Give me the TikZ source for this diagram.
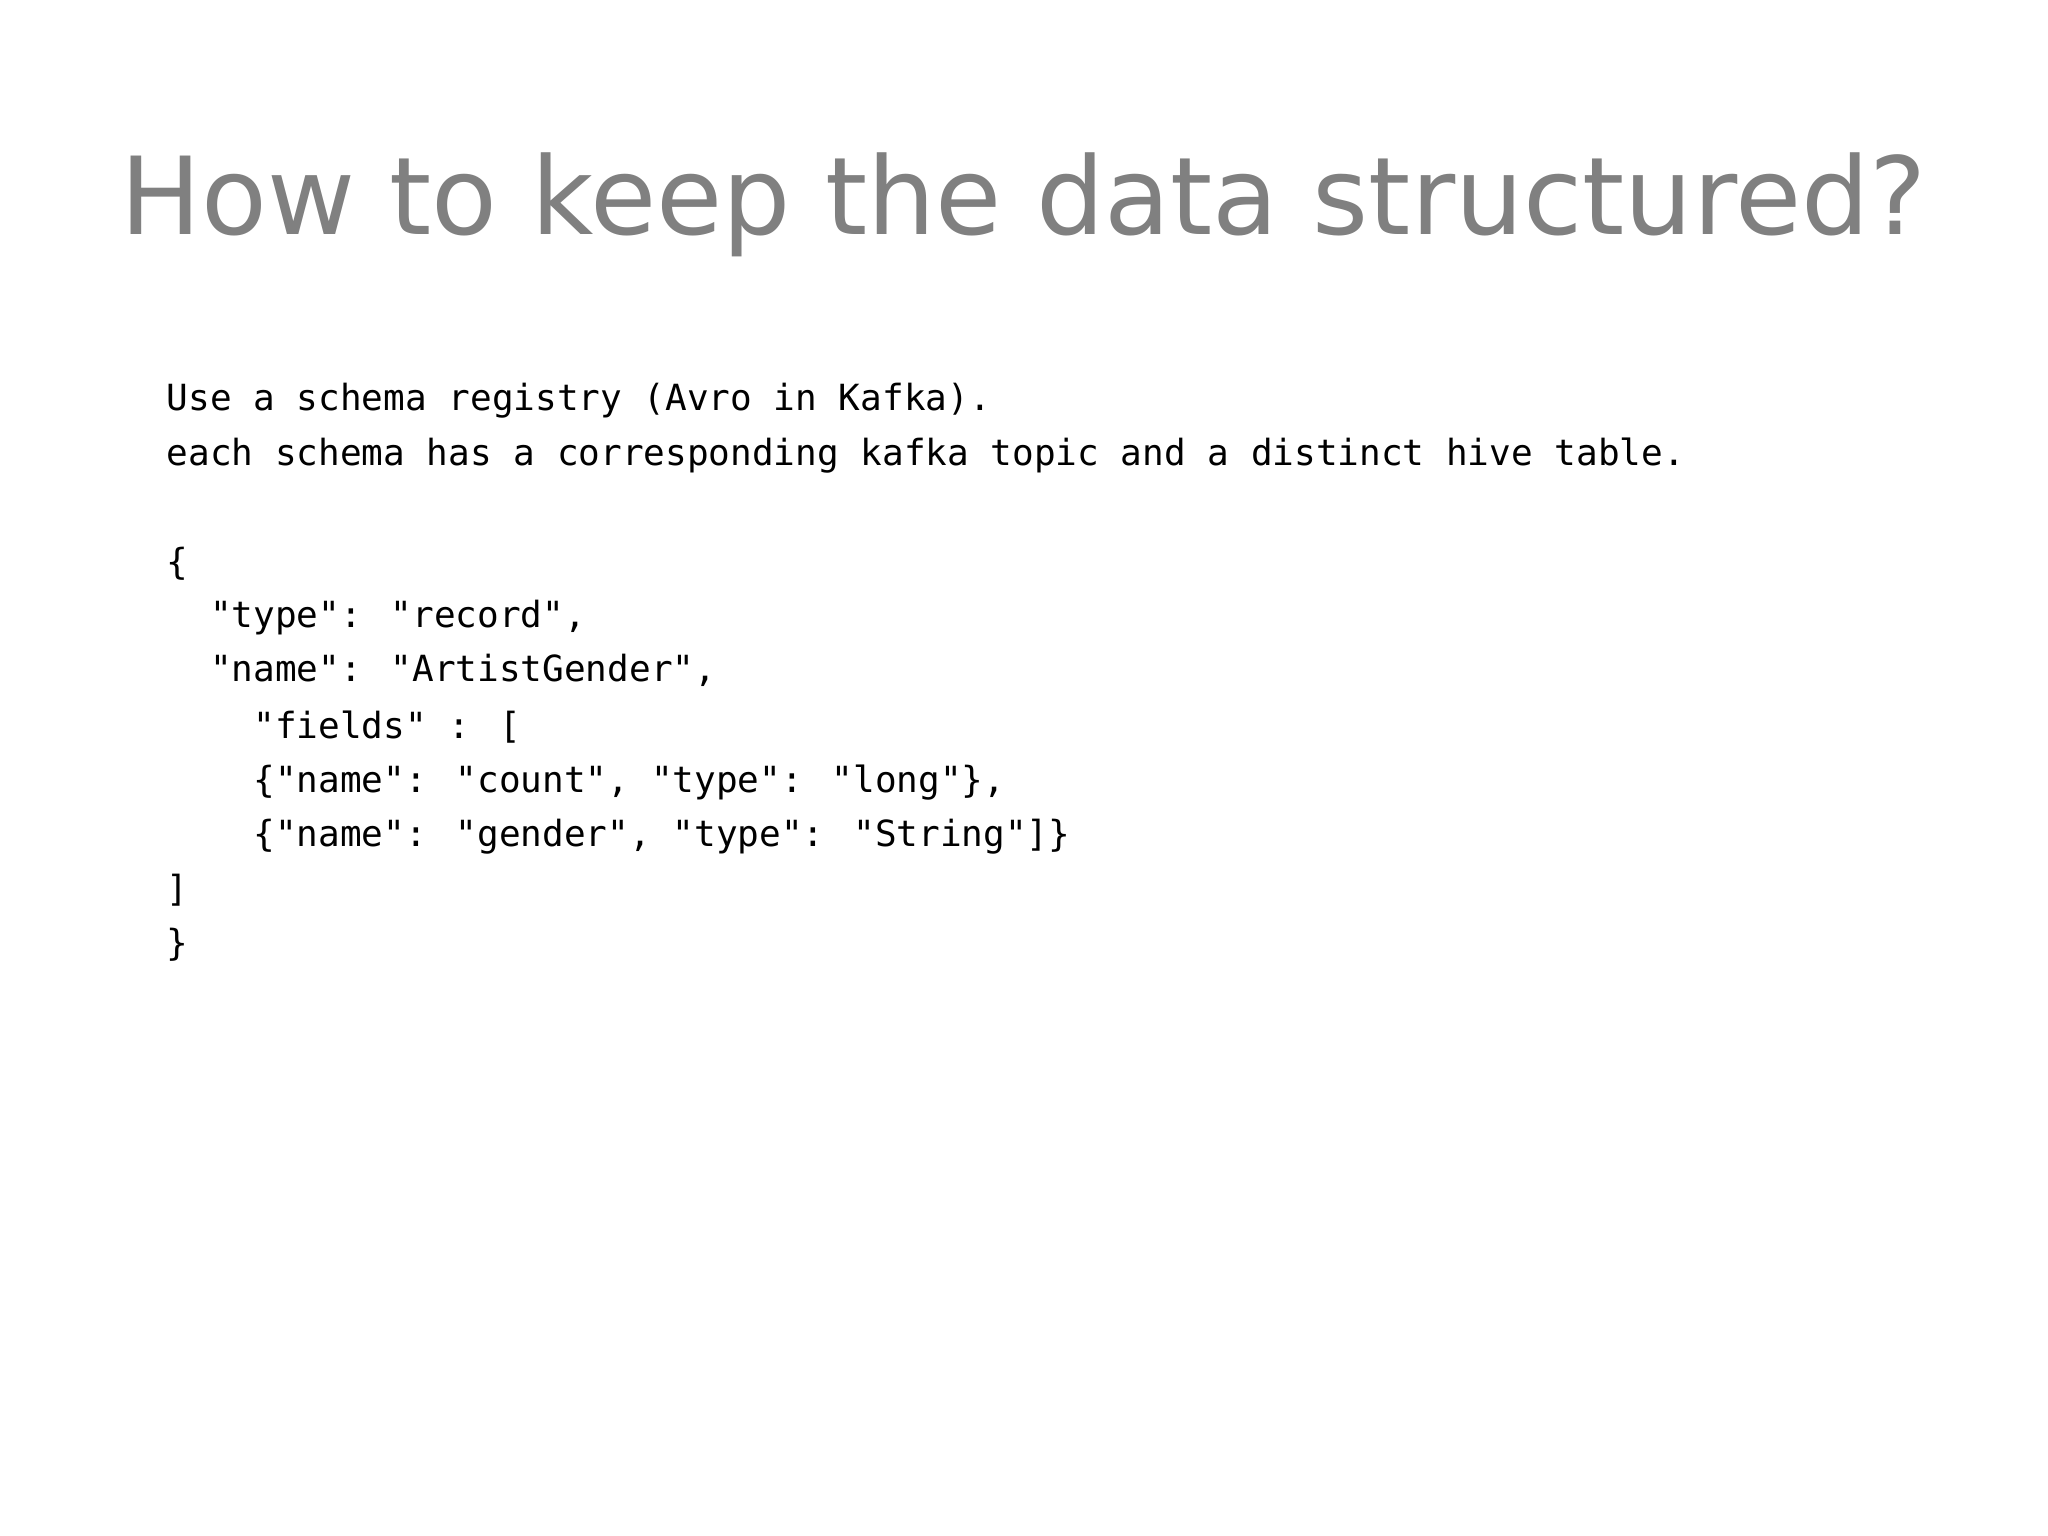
\documentclass[tikz,border=0pt]{standalone}
\usepackage{fontspec}
\setmainfont{DejaVu Sans}
\newfontfamily\codefont{DejaVu Sans Mono}
\definecolor{titlegray}{RGB}{128,128,128}
\tikzset{codeline/.style={anchor=base west,inner sep=0pt,font=\codefont\fontsize{10.25pt}{12pt}\selectfont,text=black}}
\begin{document}
\begin{tikzpicture}
\useasboundingbox (0,0) rectangle (20.48,-15.36);
\node[anchor=base west,inner sep=0pt,text=titlegray] (title) at (1.20,-2.35)
  {\resizebox{18.06cm}{!}{\fontsize{60pt}{70pt}\selectfont How to keep the data structured?}};
\node[codeline] (l1) at (1.66,-4.11) {Use a schema registry (Avro in Kafka).};
\node[codeline] (l2) at (1.66,-4.66) {each schema has a corresponding kafka topic and a distinct hive table.};
\node[codeline] (l3) at (1.66,-5.75) {\{};
\node[codeline] (l4) at (1.66,-6.28) {\ \ "type": "record",};
\node[codeline] (l5) at (1.66,-6.82) {\ \ "name": "ArtistGender",};
\node[codeline] (l6) at (1.66,-7.38) {\ \ \ \ "fields" : [};
\node[codeline] (l7) at (1.66,-7.93) {\ \ \ \ \{"name": "count", "type": "long"\},};
\node[codeline] (l8) at (1.66,-8.46) {\ \ \ \ \{"name": "gender", "type": "String"]\}};
\node[codeline] (l9) at (1.66,-9.01) {]};
\node[codeline] (l10) at (1.66,-9.55) {\}};
\end{tikzpicture}
\end{document}
